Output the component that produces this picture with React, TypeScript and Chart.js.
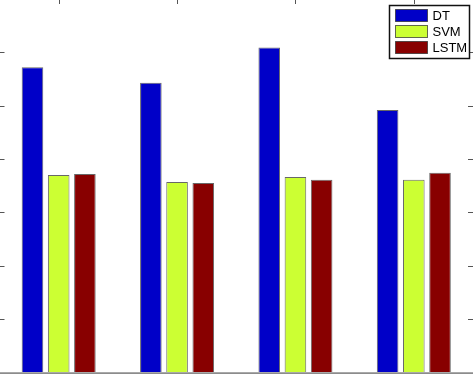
import React, { useEffect, useRef } from "react";
import { Chart, registerables } from "chart.js";

Chart.register(...registerables);

const categories = ["1", "2", "3", "4"];
const seriesLabels = ["DT", "SVM", "LSTM"];
const dtValues = [57.2, 54.3, 60.9, 49.2];
const svmValues = [37.0, 35.7, 36.6, 36.1];
const lstmValues = [37.2, 35.5, 36.1, 37.4];
const yTicks = [10, 20, 30, 40, 50, 60];
const seriesColors = ["#0000c8", "#ccff33", "#880000"];

const CANVAS_W = 520;
const CANVAS_H = 420;
const OFFSET = 20;

const matlabAxes = {
  id: "matlabAxes",
  afterDatasetsDraw(chart: any) {
    const { ctx, chartArea: ca, scales } = chart;
    const xs = scales.x;
    const ys = scales.y;
    const tl = 5;
    ctx.save();
    ctx.strokeStyle = "#555555";
    ctx.lineWidth = 1;
    ctx.beginPath();
    yTicks.forEach((v) => {
      const py = Math.round(ys.getPixelForValue(v)) + 0.5;
      ctx.moveTo(ca.left, py);
      ctx.lineTo(ca.left + tl, py);
      ctx.moveTo(ca.right - tl, py);
      ctx.lineTo(ca.right, py);
    });
    categories.forEach((_c, i) => {
      const px = Math.round(xs.getPixelForValue(i)) + 0.5;
      ctx.moveTo(px, ca.top);
      ctx.lineTo(px, ca.top + tl);
    });
    ctx.stroke();

    // bottom axis line
    ctx.strokeStyle = "#8c8c8c";
    ctx.lineWidth = 2;
    ctx.beginPath();
    ctx.moveTo(ca.left, ca.bottom + 1);
    ctx.lineTo(ca.right, ca.bottom + 1);
    ctx.stroke();

    // legend
    const boxW = 80;
    const boxH = 53;
    const bx = Math.round(ca.right - 4 - boxW) + 0.5;
    const by = Math.round(ca.top + 6) + 0.5;
    ctx.fillStyle = "#ffffff";
    ctx.fillRect(bx, by, boxW, boxH);
    ctx.strokeStyle = "#111111";
    ctx.lineWidth = 1.5;
    ctx.strokeRect(bx, by, boxW, boxH);
    ctx.font = '13px "Liberation Sans", Arial, sans-serif';
    ctx.textBaseline = "middle";
    ctx.textAlign = "left";
    chart.data.datasets.forEach((ds: any, i: number) => {
      const sy = by + 4 + i * 16;
      ctx.fillStyle = ds.backgroundColor;
      ctx.fillRect(bx + 6, sy, 32, 12);
      ctx.strokeStyle = "rgba(40,40,40,0.7)";
      ctx.lineWidth = 1;
      ctx.strokeRect(bx + 6, sy, 32, 12);
      ctx.fillStyle = "#000000";
      ctx.fillText(ds.label, bx + 43, sy + 6.5);
    });
    ctx.restore();
  },
};

export default function App() {
  const canvasRef = useRef<HTMLCanvasElement>(null);

  useEffect(() => {
    const canvas = canvasRef.current;
    if (!canvas) return;
    const valueSets = [dtValues, svmValues, lstmValues];
    const chart = new Chart(canvas, {
      type: "bar",
      data: {
        labels: categories,
        datasets: seriesLabels.map((label, i) => ({
          label,
          data: valueSets[i],
          backgroundColor: seriesColors[i],
          borderColor: "rgba(40,40,40,0.7)",
          borderWidth: 1,
          categoryPercentage: 0.664,
          barPercentage: 0.824,
        })),
      },
      options: {
        responsive: false,
        maintainAspectRatio: false,
        animation: false,
        devicePixelRatio: 1,
        layout: {
          padding: { left: 19.5, top: 19, right: 27, bottom: 27.7 },
        },
        plugins: {
          legend: { display: false },
          tooltip: { enabled: false },
        },
        scales: {
          x: { type: "category", display: false, offset: true },
          y: { display: false, min: 0, max: 70 },
        },
      },
      plugins: [matlabAxes],
    });
    return () => chart.destroy();
  }, []);

  return (
    <div
      style={{
        position: "fixed",
        left: 0,
        top: 0,
        width: 474,
        height: 374,
        overflow: "hidden",
        background: "#ffffff",
      }}
    >
      <canvas
        ref={canvasRef}
        width={CANVAS_W}
        height={CANVAS_H}
        style={{
          position: "absolute",
          left: -OFFSET,
          top: -OFFSET,
          width: CANVAS_W,
          height: CANVAS_H,
        }}
      />
    </div>
  );
}
